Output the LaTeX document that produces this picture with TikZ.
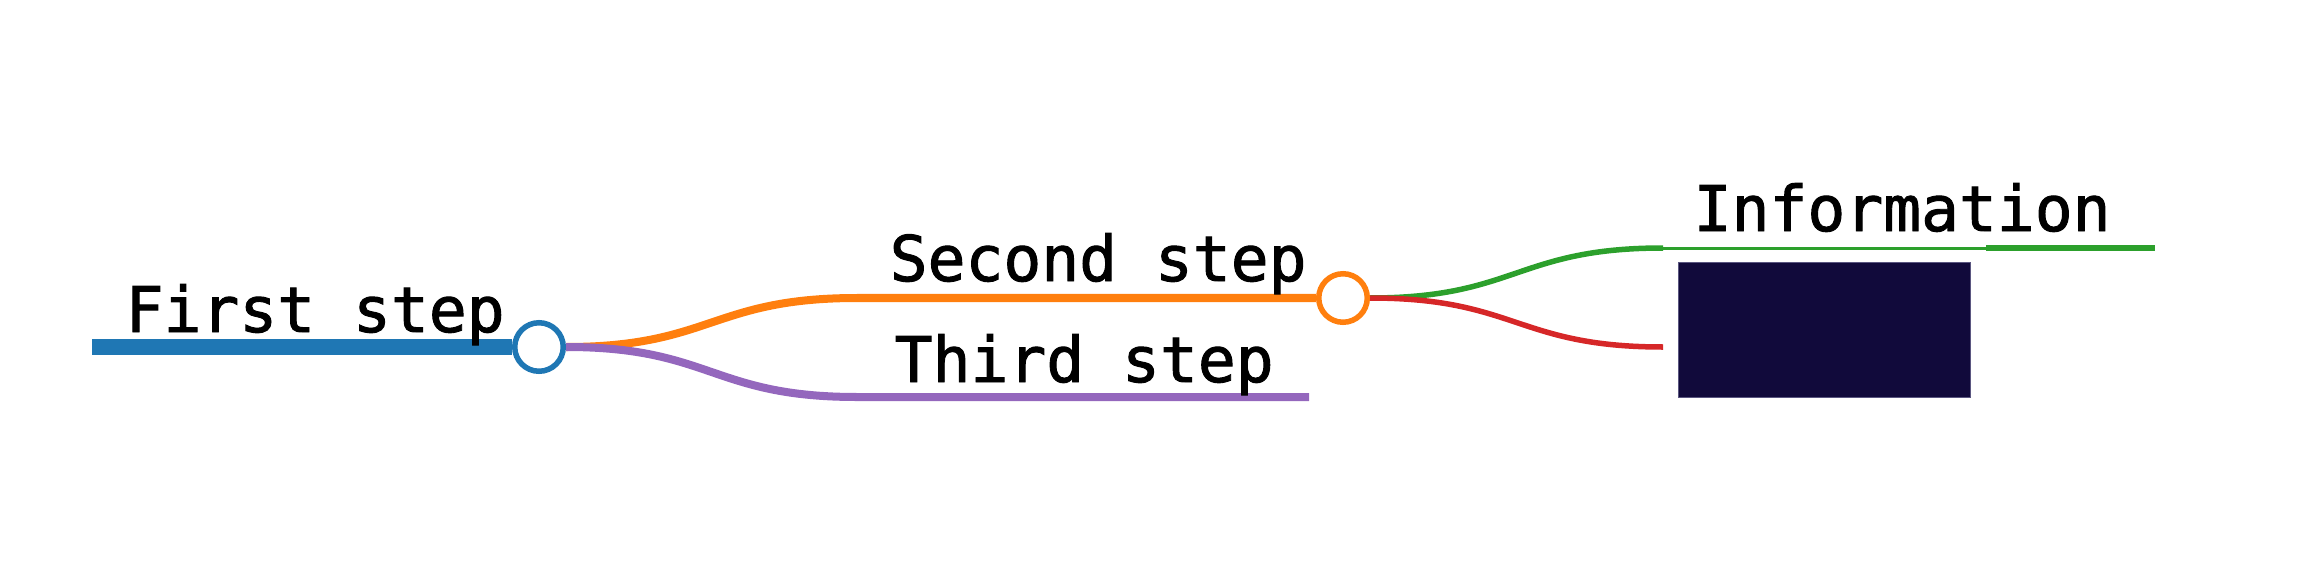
\documentclass[tikz,border=0pt]{standalone}
\usepackage{fontspec}
\setmonofont[FakeBold=1.5,AutoFakeBold=0]{DejaVu Sans Mono}
\usetikzlibrary{positioning}
\definecolor{tabblue}{HTML}{1F77B4}
\definecolor{taborange}{HTML}{FF7F0E}
\definecolor{tabgreen}{HTML}{2CA02C}
\definecolor{tabred}{HTML}{D62728}
\definecolor{tabpurple}{HTML}{9467BD}
\definecolor{boxfill}{HTML}{110A3B}
\definecolor{boxedge}{HTML}{5A5680}

\begin{document}
\begin{tikzpicture}[x=0.01cm, y=-0.01cm]
\tikzstyle{hub}=[circle,draw,fill=white,line width=0.055cm,minimum size=0.485cm,inner sep=0pt]
\tikzstyle{lbl}=[anchor=base west,inner sep=0pt,font=\ttfamily\fontsize{17.9}{20}\selectfont]
\tikzstyle{wide}=[line width=0.15cm]
\tikzstyle{mid}=[line width=0.08cm]
\tikzstyle{slim}=[line width=0.055cm]
\useasboundingbox (0,0) rectangle (2298,564);
% stations
\node[hub,draw=tabblue]   (F) at (539,347)  {};
\node[hub,draw=taborange] (S) at (1343,298) {};
\node[fill=boxfill,draw=boxedge,line width=0.3pt,minimum width=2.91cm,minimum height=1.34cm,inner sep=0pt] (B) at (1824.5,330) {};
% line ends
\coordinate (Fa) at (92,347);
\coordinate (Sa) at (857,298);
\coordinate (Ta) at (857,397);
\coordinate (Tb) at (1309,397);
\coordinate (Ia) at (1663,248);
\coordinate (Im) at (1986,248);
\coordinate (Ib) at (2155,248);
\coordinate (Ra) at (1663,347);
% lines
\draw[wide,tabblue] (Fa) -- (F.west);
\draw[mid,taborange] (F.east) .. controls +(145,0) and +(-145,0) .. (Sa) -- (S.west);
\draw[mid,tabpurple] (F.east) .. controls +(145,0) and +(-145,0) .. (Ta) -- (Tb);
\draw[slim,tabgreen] (S.east) .. controls +(146,0) and +(-146,0) .. (Ia);
\draw[line width=0.03cm,tabgreen] (Ia) -- (Im);
\draw[slim,tabgreen] (Im) -- (Ib);
\draw[slim,tabred] (S.east) .. controls +(146,0) and +(-146,0) .. (Ra);
% labels
\node[lbl] (t1) at (125,332)  {First step};
\node[lbl] (t2) at (889,281)  {Second step};
\node[lbl] (t3) at (894,382)  {Third step};
\node[lbl] (t4) at (1693,231) {Information};
\end{tikzpicture}
\end{document}
